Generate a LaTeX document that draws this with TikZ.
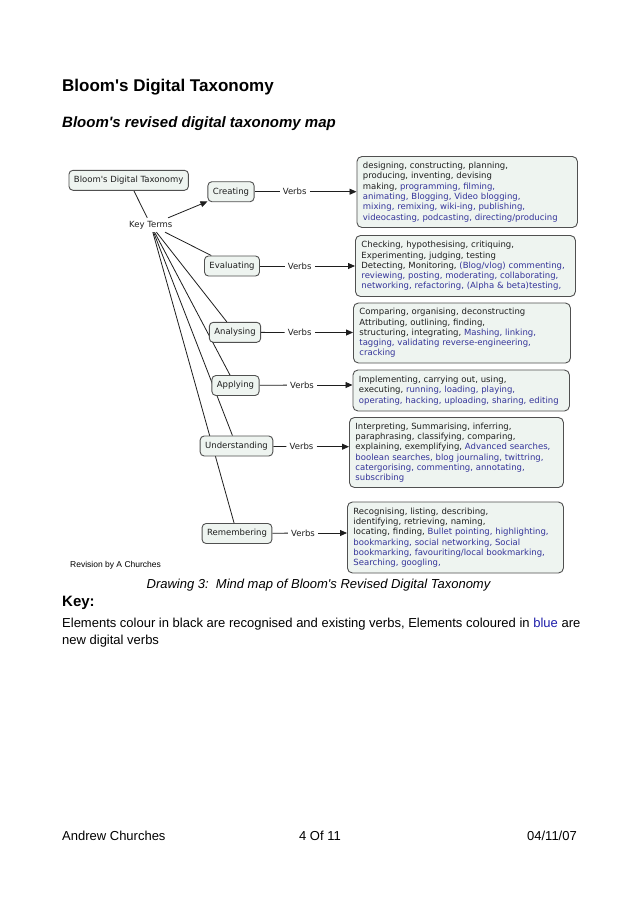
\documentclass[tikz,border=0pt]{standalone}
\usepackage{fontspec}
\setmainfont{Liberation Sans}
\newfontfamily\dvs{DejaVu Sans}
\usetikzlibrary{arrows.meta,backgrounds}
\definecolor{nblue}{RGB}{51,51,153}
\definecolor{kblue}{RGB}{30,30,170}
\definecolor{boxfill}{RGB}{238,244,240}
\definecolor{boxline}{RGB}{80,80,80}
\definecolor{ink}{RGB}{30,30,30}
\newcommand{\nb}[1]{\textcolor{nblue}{#1}}
\begin{document}
\begin{tikzpicture}[x=1pt,y=-1pt,
  concept/.style={draw=boxline,fill=boxfill,rounded corners=4pt,line width=0.9pt,
    font=\dvs\fontsize{8.5}{10}\selectfont,text=ink,inner xsep=5pt,inner ysep=2pt,minimum height=20pt},
  verbbox/.style={draw=boxline,fill=boxfill,rounded corners=5pt,line width=0.9pt,
    font=\dvs\fontsize{8.5}{10.3}\selectfont,text=ink,align=left,inner xsep=6pt,inner ysep=3pt,anchor=west},
  lbl/.style={font=\dvs\fontsize{8.5}{10}\selectfont,text=ink,inner xsep=3pt,inner ysep=1pt},
  link/.style={draw=ink,line width=0.8pt},
  arr/.style={link,-{Triangle[length=7pt,width=6pt]}},
  plain/.style={inner sep=0pt,anchor=base west},
]
\useasboundingbox (0,0) rectangle (638,903);

% page texts
\node[plain,font=\bfseries\fontsize{17}{20}\selectfont] (title) at (62,91) {Bloom\textquotesingle s Digital Taxonomy};
\node[plain,font=\bfseries\itshape\fontsize{15}{18}\selectfont] (sub) at (62,127) {Bloom\textquotesingle s revised digital taxonomy map};
\node[plain,font=\fontsize{8.5}{10}\selectfont] (rev) at (70,567) {Revision by A Churches};
\node[inner sep=0pt,anchor=base,font=\itshape\fontsize{13}{15}\selectfont] (cap) at (318.5,588) {Drawing 3:\ \ Mind map of Bloom\textquotesingle s Revised Digital Taxonomy};
\node[plain,font=\bfseries\fontsize{15}{18}\selectfont] (key) at (62,606) {Key:};
\node[plain,font=\fontsize{13}{16}\selectfont] (key1) at (62,627) {Elements colour in black are recognised and existing verbs, Elements coloured in \textcolor{kblue}{blue} are};
\node[plain,font=\fontsize{13}{16}\selectfont] (key2) at (62,644) {new digital verbs};
\node[plain,font=\fontsize{13}{16}\selectfont] (f1) at (62,840) {Andrew Churches};
\node[inner sep=0pt,anchor=base,font=\fontsize{13}{16}\selectfont] (f2) at (320,840) {4 Of 11};
\node[inner sep=0pt,anchor=base east,font=\fontsize{13}{16}\selectfont] (f3) at (577,840) {04/11/07};

% concept nodes
\node[concept] (root) at (128.7,180.3) {Bloom's Digital Taxonomy};
\node[lbl,inner ysep=3pt] (kt) at (150.8,225) {Key Terms};
\node[concept] (cre) at (231,191.7) {Creating};
\node[concept] (eva) at (232,266) {Evaluating};
\node[concept] (ana) at (235,332.3) {Analysing};
\node[concept] (app) at (235.5,385.5) {Applying};
\node[concept] (und) at (236.5,446) {Understanding};
\node[concept] (rem) at (237,533.5) {Remembering};

\node[lbl] (v1) at (294.7,191.7) {Verbs};
\node[lbl] (v2) at (299.7,266) {Verbs};
\node[lbl] (v3) at (299.7,332.5) {Verbs};
\node[lbl] (v4) at (302,385) {Verbs};
\node[lbl] (v5) at (301.5,446.7) {Verbs};
\node[lbl] (v6) at (303,533) {Verbs};

\node[verbbox,text width=208.5pt,minimum height=71pt] (b1) at (356.5,192) {designing, constructing, planning,\\ producing, inventing, devising\\ making, \nb{programming, filming,}\\ \nb{animating, Blogging, Video blogging,}\\ \nb{mixing, remixing, wiki-ing, publishing,}\\ \nb{videocasting, podcasting, directing/producing}};
\node[verbbox,text width=208pt,minimum height=61pt] (b2) at (355,266) {Checking, hypothesising, critiquing,\\ Experimenting, judging, testing\\ Detecting, Monitoring, \nb{(Blog/vlog) commenting,}\\ \nb{reviewing, posting, moderating, collaborating,}\\ \nb{networking, refactoring, (Alpha \& beta)testing,}};
\node[verbbox,text width=205pt,minimum height=60pt] (b3) at (353,333) {Comparing, organising, deconstructing\\ Attributing, outlining, finding,\\ structuring, integrating, \nb{Mashing, linking,}\\ \nb{tagging, validating reverse-engineering,}\\ \nb{cracking}};
\node[verbbox,text width=204.5pt,minimum height=41pt] (b4) at (352.5,390.5) {Implementing, carrying out, using,\\ executing, \nb{running, loading, playing,}\\ \nb{operating, hacking, uploading, sharing, editing}};
\node[verbbox,text width=202pt,minimum height=70pt] (b5) at (349,452.5) {Interpreting, Summarising, inferring,\\ paraphrasing, classifying, comparing,\\ explaining, exemplifying, \nb{Advanced searches,}\\ \nb{boolean searches, blog journaling, twittring,}\\ \nb{catergorising, commenting, annotating,}\\ \nb{subscribing}};
\node[verbbox,text width=204pt,minimum height=71pt] (b6) at (347,537.5) {Recognising, listing, describing,\\ identifying, retrieving, naming,\\ locating, finding, \nb{Bullet pointing, highlighting,}\\ \nb{bookmarking, social networking, Social}\\ \nb{bookmarking, favouriting/local bookmarking,}\\ \nb{Searching, googling,}};

\begin{scope}[on background layer]
\fill[white] (0,0) rectangle (638,903);
\draw[link] (root) -- (kt);
\draw[arr] (kt) -- (cre);
\draw[link] (kt) -- (eva);
\draw[link] (kt) -- (ana);
\draw[link] (kt) -- (app);
\draw[link] (kt) -- (und);
\draw[link] (kt) -- (rem);
\draw[link] (cre) -- (v1);
\draw[link] (eva) -- (v2);
\draw[link] (ana) -- (v3);
\draw[link] (app) -- (v4);
\draw[link] (und) -- (v5);
\draw[link] (rem) -- (v6);
\draw[arr] (v1) -- (v1 -| b1.west);
\draw[arr] (v2) -- (v2 -| b2.west);
\draw[arr] (v3) -- (v3 -| b3.west);
\draw[arr] (v4) -- (v4 -| b4.west);
\draw[arr] (v5) -- (v5 -| b5.west);
\draw[arr] (v6) -- (v6 -| b6.west);
\end{scope}
\end{tikzpicture}
\end{document}
